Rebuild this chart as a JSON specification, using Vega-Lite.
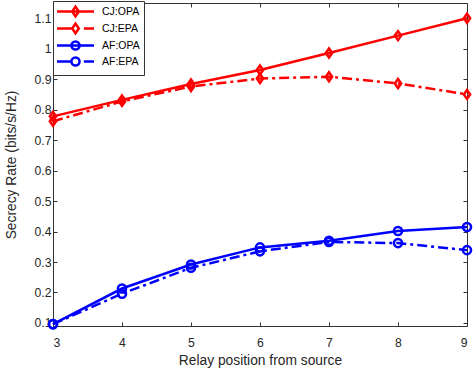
{
  "$schema": "https://vega.github.io/schema/vega-lite/v6.json",
  "width": 414,
  "height": 323,
  "autosize": "none",
  "padding": {"left": 53, "top": 3, "right": 7, "bottom": 43},
  "config": {
    "font": "Liberation Sans",
    "view": {"stroke": "#333333", "strokeWidth": 1},
    "axis": {
      "domain": false,
      "grid": false,
      "tickColor": "#333333",
      "tickSize": -4,
      "tickWidth": 1,
      "labelColor": "#262626",
      "labelFontSize": 12.2,
      "labelFont": "Liberation Sans",
      "titleFont": "Liberation Sans",
      "titleFontSize": 13.8,
      "titleFontWeight": "normal",
      "titleColor": "#262626"
    }
  },
  "data": {
    "values": [
      {"x": 3, "series": "CJ:OPA", "family": "CJ", "kind": "OPA", "rate": 0.778},
      {"x": 4, "series": "CJ:OPA", "family": "CJ", "kind": "OPA", "rate": 0.832},
      {"x": 5, "series": "CJ:OPA", "family": "CJ", "kind": "OPA", "rate": 0.884},
      {"x": 6, "series": "CJ:OPA", "family": "CJ", "kind": "OPA", "rate": 0.930},
      {"x": 7, "series": "CJ:OPA", "family": "CJ", "kind": "OPA", "rate": 0.986},
      {"x": 8, "series": "CJ:OPA", "family": "CJ", "kind": "OPA", "rate": 1.043},
      {"x": 9, "series": "CJ:OPA", "family": "CJ", "kind": "OPA", "rate": 1.100},
      {"x": 3, "series": "CJ:EPA", "family": "CJ", "kind": "EPA", "rate": 0.762},
      {"x": 4, "series": "CJ:EPA", "family": "CJ", "kind": "EPA", "rate": 0.827},
      {"x": 5, "series": "CJ:EPA", "family": "CJ", "kind": "EPA", "rate": 0.876},
      {"x": 6, "series": "CJ:EPA", "family": "CJ", "kind": "EPA", "rate": 0.902},
      {"x": 7, "series": "CJ:EPA", "family": "CJ", "kind": "EPA", "rate": 0.908},
      {"x": 8, "series": "CJ:EPA", "family": "CJ", "kind": "EPA", "rate": 0.886},
      {"x": 9, "series": "CJ:EPA", "family": "CJ", "kind": "EPA", "rate": 0.850},
      {"x": 3, "series": "AF:OPA", "family": "AF", "kind": "OPA", "rate": 0.096},
      {"x": 4, "series": "AF:OPA", "family": "AF", "kind": "OPA", "rate": 0.213},
      {"x": 5, "series": "AF:OPA", "family": "AF", "kind": "OPA", "rate": 0.292},
      {"x": 6, "series": "AF:OPA", "family": "AF", "kind": "OPA", "rate": 0.348},
      {"x": 7, "series": "AF:OPA", "family": "AF", "kind": "OPA", "rate": 0.370},
      {"x": 8, "series": "AF:OPA", "family": "AF", "kind": "OPA", "rate": 0.402},
      {"x": 9, "series": "AF:OPA", "family": "AF", "kind": "OPA", "rate": 0.415},
      {"x": 3, "series": "AF:EPA", "family": "AF", "kind": "EPA", "rate": 0.096},
      {"x": 4, "series": "AF:EPA", "family": "AF", "kind": "EPA", "rate": 0.196},
      {"x": 5, "series": "AF:EPA", "family": "AF", "kind": "EPA", "rate": 0.281},
      {"x": 6, "series": "AF:EPA", "family": "AF", "kind": "EPA", "rate": 0.335},
      {"x": 7, "series": "AF:EPA", "family": "AF", "kind": "EPA", "rate": 0.366},
      {"x": 8, "series": "AF:EPA", "family": "AF", "kind": "EPA", "rate": 0.362},
      {"x": 9, "series": "AF:EPA", "family": "AF", "kind": "EPA", "rate": 0.339}
    ]
  },
  "layer": [
    {
      "transform": [{"filter": "datum.kind === 'OPA'"}],
      "mark": {"type": "line", "strokeWidth": 2.5},
      "encoding": {
        "x": {
          "field": "x", "type": "quantitative",
          "scale": {"domain": [3, 9], "nice": false, "zero": false},
          "axis": {"orient": "bottom", "values": [3, 4, 5, 6, 7, 8, 9], "labelPadding": 14, "title": "Relay position from source", "titlePadding": 5}
        },
        "y": {
          "field": "rate", "type": "quantitative",
          "scale": {"domain": [0.09, 1.15], "nice": false, "zero": false},
          "axis": {"orient": "left", "values": [0.1, 0.2, 0.3, 0.4, 0.5, 0.6, 0.7, 0.8, 0.9, 1, 1.1], "format": ".1~f", "labelPadding": 6, "title": "Secrecy Rate (bits/s/Hz)", "titlePadding": 16}
        },
        "color": {
          "field": "series", "type": "nominal",
          "scale": {"domain": ["CJ:OPA", "CJ:EPA", "AF:OPA", "AF:EPA"], "range": ["#ff0000", "#ff0000", "#0000ff", "#0000ff"]},
          "legend": {
            "title": null,
            "orient": "none",
            "legendX": 0,
            "legendY": -2,
            "padding": 4,
            "fillColor": "#ffffff",
            "strokeColor": "#333333",
            "symbolSize": 100,
            "symbolStrokeWidth": 2.5,
            "rowPadding": -6,
            "symbolOffset": 12,
            "labelOffset": 20,
            "labelFontSize": 10.5,
            "labelColor": "#000000",
            "labelFont": "Liberation Sans",
            "encode": {
              "symbols": {
                "update": {
                  "shape": {"signal": "datum.value === 'CJ:OPA' ? 'M-3.7,0L3.7,0M0,-0.96L0.67,0L0,0.96L-0.67,0Z' : datum.value === 'CJ:EPA' ? 'M-3.7,0L-0.67,0M0,-0.96L0.67,0L0,0.96L-0.67,0ZM1.67,0L3.7,0' : datum.value === 'AF:OPA' ? 'M-3.7,0L3.7,0M-0.81,0A0.81,0.81 0 1,0 0.81,0A0.81,0.81 0 1,0 -0.81,0' : 'M-3.7,0L-0.81,0M-0.81,0A0.81,0.81 0 1,0 0.81,0A0.81,0.81 0 1,0 -0.81,0M1.67,0L3.7,0'"},
                  "size": {"value": 100},
                  "strokeWidth": {"value": 2.5},
                  "fill": {"value": "transparent"},
                  "opacity": {"value": 1}
                }
              }
            }
          }
        }
      }
    },
    {
      "transform": [{"filter": "datum.kind === 'EPA'"}],
      "mark": {"type": "line", "strokeWidth": 2.5, "strokeDash": [10, 4, 3, 4]},
      "encoding": {
        "x": {"field": "x", "type": "quantitative", "axis": null},
        "y": {"field": "rate", "type": "quantitative", "axis": null},
        "color": {"field": "series", "type": "nominal"}
      }
    },
    {
      "mark": {"type": "point", "filled": false, "strokeWidth": 2.5, "opacity": 1, "size": 81},
      "encoding": {
        "x": {
          "field": "x", "type": "quantitative",
          "axis": {"orient": "top", "values": [3, 4, 5, 6, 7, 8, 9], "labels": false, "title": null}
        },
        "y": {
          "field": "rate", "type": "quantitative",
          "axis": {"orient": "right", "values": [0.1, 0.2, 0.3, 0.4, 0.5, 0.6, 0.7, 0.8, 0.9, 1, 1.1], "labels": false, "title": null}
        },
        "stroke": {
          "field": "family", "type": "nominal",
          "scale": {"domain": ["CJ", "AF"], "range": ["#ff0000", "#0000ff"]},
          "legend": null
        },
        "shape": {
          "field": "family", "type": "nominal",
          "scale": {"domain": ["CJ", "AF"], "range": ["M0,-1L0.7,0L0,1L-0.7,0Z", "M-0.9,0A0.9,0.9 0 1,0 0.9,0A0.9,0.9 0 1,0 -0.9,0"]},
          "legend": null
        }
      }
    }
  ],
  "resolve": {"axis": {"x": "independent", "y": "independent"}}
}
